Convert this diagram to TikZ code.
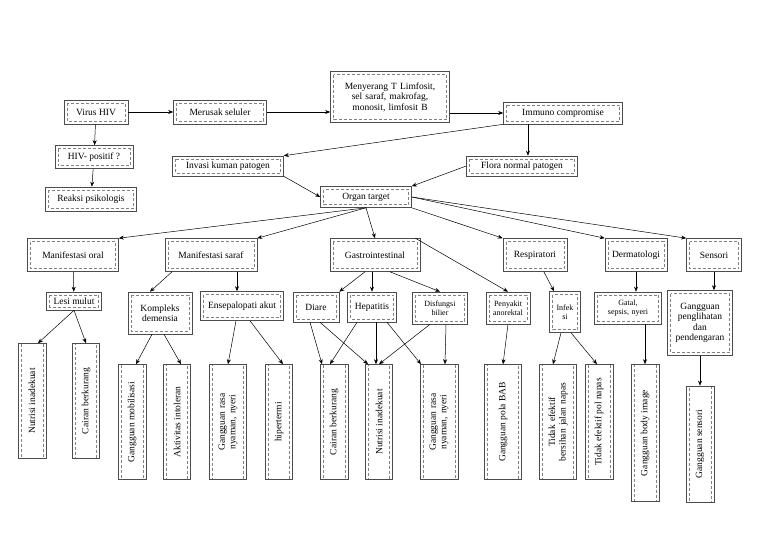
\documentclass[tikz,border=0pt]{standalone}
\usepackage{fontspec}
\setmainfont{Liberation Serif}
\usetikzlibrary{arrows.meta}
\hyphenpenalty=10000
\exhyphenpenalty=10000
\begin{document}
\begin{tikzpicture}[x=1pt,y=-1pt,
  bx/.style={draw=black!70,line width=0.6pt,inner sep=1pt,align=center,
    font=\fontsize{9.5}{10.5}\selectfont,
    path picture={\draw[gray,densely dashed,line width=0.3pt]
      ([shift={(3pt,-3pt)}]path picture bounding box.north west) rectangle
      ([shift={(-3pt,3pt)}]path picture bounding box.south east);}},
  sm/.style={font=\fontsize{8}{9}\selectfont},
  vb/.style={bx,rotate=90},
  ar/.style={-{Stealth[length=5pt,width=4pt]},line width=0.5pt}]
\useasboundingbox (0,0) rectangle (768,543);
% top row
\node[bx,minimum width=64,minimum height=24] (virus) at (96,112) {Virus HIV};
\node[bx,minimum width=93,minimum height=24] (merusak) at (220,112) {Merusak seluler};
\node[bx,minimum width=119,minimum height=51,text width=108] (menyerang) at (390,97) {Menyerang T Limfosit, sel saraf, makrofag, monosit, limfosit B};
\node[bx,minimum width=119,minimum height=22] (immuno) at (563,113) {Immuno compromise};
\node[bx,minimum width=78,minimum height=23] (hivpos) at (94,157) {HIV- positif ?};
\node[bx,minimum width=91,minimum height=24] (reaksi) at (91,199) {Reaksi psikologis};
\node[bx,minimum width=111,minimum height=20] (invasi) at (228,166) {Invasi kuman patogen};
\node[bx,minimum width=111,minimum height=20] (flora) at (522,166) {Flora normal patogen};
\node[bx,minimum width=91,minimum height=21] (organ) at (366,197) {Organ target};
% level 2
\node[bx,minimum width=91,minimum height=33] (oral) at (73,255) {Manifestasi oral};
\node[bx,minimum width=92,minimum height=33] (saraf) at (211,255) {Manifestasi saraf};
\node[bx,minimum width=90,minimum height=33] (gastro) at (375,255) {Gastrointestinal};
\node[bx,minimum width=64,minimum height=33] (resp) at (535,255) {Respiratori};
\node[bx,minimum width=62,minimum height=33] (derma) at (636,255) {Dermatologi};
\node[bx,minimum width=55,minimum height=33] (sensori) at (714,255) {Sensori};
% level 3
\node[bx,minimum width=55,minimum height=18] (lesi) at (74,301) {Lesi mulut};
\node[bx,minimum width=64,minimum height=42,text width=50] (kompleks) at (160,313) {Kompleks demensia};
\node[bx,minimum width=83,minimum height=29] (ensep) at (242,306) {Ensepalopati akut};
\node[bx,minimum width=46,minimum height=30] (diare) at (316,307) {Diare};
\node[bx,minimum width=49,minimum height=30] (hepa) at (372,307) {Hepatitis};
\node[bx,sm,minimum width=55,minimum height=32,text width=44] (disf) at (440,308) {Disfungsi bilier};
\node[bx,sm,minimum width=44,minimum height=32,text width=38] (anor) at (508,308) {Penyakit anorektal};
\node[bx,sm,minimum width=31,minimum height=41,text width=22] (infeksi) at (565,312) {Infek\\si};
\node[bx,sm,minimum width=67,minimum height=32,text width=58] (gatal) at (628,308) {Gatal, sepsis, nyeri};
\node[bx,minimum width=65,minimum height=65,text width=56] (visus) at (700,323) {Gangguan penglihatan dan pendengaran};
% level 4 (vertical)
\node[vb,minimum width=115,minimum height=28] (nut1) at (32,401) {Nutrisi inadekuat};
\node[vb,minimum width=115,minimum height=27] (cair1) at (86,401) {Cairan berkurang};
\node[vb,minimum width=115,minimum height=28] (mob) at (132,422) {Gangguan mobilisasi};
\node[vb,minimum width=115,minimum height=27] (akt) at (177,422) {Aktivitas intoleran};
\node[vb,minimum width=115,minimum height=37,text width=108] (nyam1) at (228,422) {Gangguan rasa nyaman, nyeri};
\node[vb,minimum width=115,minimum height=27] (hiper) at (279,422) {hipertermi};
\node[vb,minimum width=115,minimum height=28] (cair2) at (334,422) {Cairan berkurang};
\node[vb,minimum width=115,minimum height=27] (nut2) at (379,422) {Nutrisi inadekuat};
\node[vb,minimum width=115,minimum height=38,text width=108] (nyam2) at (439,422) {Gangguan rasa nyaman, nyeri};
\node[vb,minimum width=115,minimum height=37] (bab) at (503,422) {Gangguan pola BAB};
\node[vb,minimum width=115,minimum height=37,text width=100] (bersih) at (558,422) {Tidak efektif bersihan jalan napas};
\node[vb,minimum width=115,minimum height=28] (pola) at (599,422) {Tidak efektif pol napas};
\node[vb,minimum width=137,minimum height=28] (body) at (645,433) {Gangguan body image};
\node[vb,minimum width=116,minimum height=28] (sens) at (700,444) {Gangguan sensori};
% connectors (vertical boxes: .east is their top side)
\draw[ar] (virus) -- (merusak);
\draw[ar] (merusak) -- (menyerang.west |- merusak);
\draw[ar] (menyerang.east |- immuno) -- (immuno);
\draw[ar] (virus) -- (hivpos);
\draw[ar] (hivpos) -- (reaksi);
\draw[ar] (immuno.south west) -- (invasi.north east);
\draw[ar] (immuno.south -| flora.60) -- (flora.60);
\draw[ar] (invasi.south east) -- (organ.west);
\draw[ar] (flora.west) -- (organ.north east);
\draw[ar] (organ.south) -- (oral.north east);
\draw[ar] (organ.south) -- (saraf.north east);
\draw[ar] (organ.south) -- (gastro.north);
\draw[ar] (organ.south east) -- (resp.north west);
\draw[ar] (organ.east) -- (derma.north west);
\draw[ar] (organ.east) -- (sensori.north west);
\draw[ar] (oral) -- (lesi);
\draw[ar] (lesi.south) -- ([xshift=6pt]nut1.east);
\draw[ar] (lesi.south) -- (cair1.east);
\draw[ar] ([xshift=-39pt]saraf.south) -- ([xshift=-10pt]kompleks.north);
\draw[ar] ([xshift=26pt]saraf.south) -- ([xshift=-5pt]ensep.north);
\draw[ar] ([xshift=-8pt]kompleks.south) -- ([xshift=4pt]mob.east);
\draw[ar] ([xshift=4pt]kompleks.south) -- ([xshift=4pt]akt.east);
\draw[ar] ([xshift=-6pt]ensep.south) -- (nyam1.east);
\draw[ar] ([xshift=8pt]ensep.south) -- ([xshift=4pt]hiper.east);
\draw[ar] ([xshift=-10pt]gastro.south) -- (diare.north east);
\draw[ar] (gastro.south -| hepa) -- (hepa);
\draw[ar] ([xshift=15pt]gastro.south) -- (disf.north);
\draw[ar] ([xshift=-5pt]gastro.north east) -- (anor.north);
\draw[ar] ([xshift=-6pt]diare.south) -- ([xshift=-12pt]cair2.east);
\draw[ar] ([xshift=4pt]diare.south) -- ([xshift=-11pt]nut2.east);
\draw[ar] ([xshift=-15pt]hepa.south) -- ([xshift=-4pt]cair2.east);
\draw[ar] ([xshift=4pt]hepa.south) -- ([xshift=-3pt]nut2.east);
\draw[ar] ([xshift=15pt]hepa.south) -- ([xshift=-18pt]nyam2.east);
\draw[ar] ([xshift=-10pt]disf.south) -- ([xshift=0pt]nut2.east);
\draw[ar] ([xshift=6pt]disf.south) -- ([xshift=6pt]nyam2.east);
\draw[ar] (anor.south) -- (bab.east);
\draw[ar] (resp) -- (infeksi);
\draw[ar] ([xshift=-4pt]infeksi.south) -- ([xshift=-5pt]bersih.east);
\draw[ar] ([xshift=6pt]infeksi.south) -- ([xshift=-2pt]pola.east);
\draw[ar] (derma) -- (gatal.north -| derma);
\draw[ar] (gatal.south -| body) -- (body.east);
\draw[ar] (sensori) -- (visus.north -| sensori);
\draw[ar] (visus) -- (sens);
\end{tikzpicture}
\end{document}
